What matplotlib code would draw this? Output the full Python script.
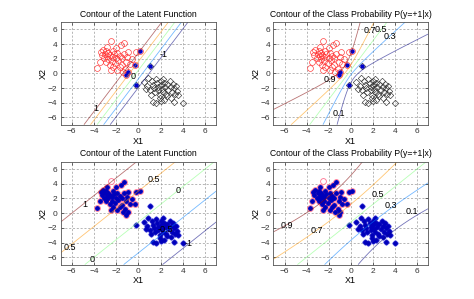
import math

import matplotlib

matplotlib.use("Agg")
import matplotlib.pyplot as plt
import numpy as np

plt.rcParams.update(
    {
        "font.family": ["Liberation Sans Narrow", "Liberation Sans", "DejaVu Sans"],
        "font.size": 6,
        "axes.linewidth": 0.6,
        "axes.edgecolor": "#555555",
    }
)

# ── Data ──────────────────────────────────────────────────────────────────────
pos_x = [-3.7, -3.4, -3.3, -3.2, -3.1, -3.0, -2.9, -2.9, -2.8, -2.7, -2.7, -2.6,
         -2.6, -2.5, -2.5, -2.4, -2.4, -2.3, -2.3, -2.2, -2.1, -2.0, -2.0, -1.9,
         -1.9, -1.8, -1.7, -1.6, -1.5, -1.5, -1.3, -1.3, -1.2, -1.1, -1.0, -0.9,
         -0.8, -0.6, -0.3, -0.2, 0.1, -1.1, -0.95, -1.4, -2.8, -3.5, -1.7]
pos_y = [0.7, 2.9, 2.5, 3.2, 2.1, 2.7, 1.6, 3.0, 2.4, 2.0, 2.8, 1.2,
         2.5, 4.4, 0.5, 2.2, 1.7, 3.0, 0.9, 2.6, 1.4, 2.1, 3.5, 0.4,
         2.8, 1.8, 2.4, 3.9, 1.1, 2.1, 4.2, 2.7, 0.6, 1.6, 2.2, 2.9,
         1.3, 1.9, 1.2, 2.9, 3.0, -0.2, 0.2, 0.2, 3.6, 1.6, 0.9]

neg_x = [1.0, -0.2, 0.5, 0.8, 1.0, 1.2, 1.3, 1.4, 1.5, 1.6, 1.7, 1.8, 1.8, 1.9,
         2.0, 2.0, 2.1, 2.2, 2.2, 2.3, 2.4, 2.5, 2.6, 2.7, 2.8, 2.9, 3.0, 3.1,
         3.2, 3.3, 3.4, 3.5, 1.3, 1.6, 2.0, 2.3, 2.9, 3.2, 4.0, 3.6, 1.1, 0.7,
         1.9, 2.6, 0.9]
neg_y = [1.0, -1.6, -1.2, -1.7, -2.3, -1.0, -1.6, -2.0, -2.6, -0.8, -1.3, -1.9,
         -2.3, -3.0, -1.0, -1.6, -2.1, -0.7, -2.5, -1.3, -1.9, -2.8, -1.5, -2.2,
         -1.0, -1.8, -2.5, -1.4, -2.0, -2.8, -1.7, -2.4, -3.9, -4.0, -3.8, -3.6,
         -3.3, -3.9, -4.0, -3.0, -2.9, -2.1, -3.4, -3.1, -0.6]

# points highlighted in the top row
act_x = [-1.1, -0.95, -0.3, 0.1, 1.0, -0.2]
act_y = [-0.2, 0.2, 1.2, 3.0, 1.0, -1.6]

# latent f = w1*x1 + w2*x2 + b
top_w = (-0.847, 0.424, -0.186)
bot_w = (-0.1429, 0.119, 0.1429)

# probability P = Phi(a*n / sqrt(1 + alpha*u^2 + 2*gamma*u*n + beta*n^2))
# n: distance across the 0.5 line, u: distance along it
top_prob = dict(normal=(-0.894, 0.447, -0.197), along=(0.447, 0.894),
                a=1.80, alpha=0.276, gamma=-0.169, beta=0.2)
bot_prob = dict(normal=(-0.768, 0.640, 0.768), along=(0.640, 0.768),
                a=0.342, alpha=0.011, gamma=0.0, beta=0.0)

latent_levels = [-1, -0.5, 0, 0.5, 1]
prob_levels = [0.1, 0.3, 0.5, 0.7, 0.9]

# contour labels (text, x, y)
tl_labels = [("1", -3.85, -4.8), ("0", -0.5, -0.4), ("-1", 2.25, 2.6)]
tr_labels = [("0.7", 1.75, 5.8), ("0.5", 2.75, 6.0), ("0.3", 3.5, 5.1),
             ("0.9", -1.9, -0.8), ("0.1", -1.1, -5.5)]
bl_labels = [("1", -4.8, 1.2), ("0.5", -6.2, -4.7), ("0.5", 1.35, 4.6),
             ("0", -4.2, -6.3), ("0", 3.6, 3.1), ("-0.5", 2.4, -2.2),
             ("-1", 4.5, -4.1)]
br_labels = [("0.9", -5.8, -1.7), ("0.7", -3.1, -2.4), ("0.5", 2.5, 2.6),
             ("0.3", 3.6, 1.1), ("0.1", 5.5, 0.2)]

ticks = [-6, -4, -2, 0, 2, 4, 6]

# ── Surfaces ──────────────────────────────────────────────────────────────────
gx, gy = np.meshgrid(np.linspace(-7, 7, 281), np.linspace(-7, 7, 281))
phi = np.vectorize(lambda z: 0.5 * (1 + math.erf(z / math.sqrt(2))))


def latent(w):
    return w[0] * gx + w[1] * gy + w[2]


def probability(p):
    n = p["normal"][0] * gx + p["normal"][1] * gy + p["normal"][2]
    u = p["along"][0] * gx + p["along"][1] * gy
    v = p["alpha"] * u**2 + 2 * p["gamma"] * u * n + p["beta"] * n**2
    return phi(p["a"] * n / np.sqrt(1 + v))


# ── Plotting ──────────────────────────────────────────────────────────────────
def style_axes(ax, title):
    ax.set_xlim(-7, 7)
    ax.set_ylim(-7, 7)
    ax.set_xticks(ticks)
    ax.set_yticks(ticks)
    ax.grid(True, linestyle=(0, (3, 2.5)), color="#9a9a9a", linewidth=0.5)
    ax.set_axisbelow(True)
    ax.tick_params(direction="in", length=2, width=0.5, pad=2.5,
                   top=True, right=True, labelsize=6, colors="#333333")
    ax.set_xlabel("X1", fontsize=6.5, labelpad=1)
    ax.set_ylabel("X2", fontsize=6.5, labelpad=0)
    ax.set_title(title, fontsize=6.2, pad=4)


def draw_contours(ax, z, levels, labels):
    ax.contour(gx, gy, z, levels=levels, cmap="jet", linewidths=0.6, alpha=0.55)
    for txt, x, y in labels:
        ax.text(x, y, txt, fontsize=6.5, ha="center", va="center", zorder=5)


fig = plt.figure(figsize=(4.74, 2.99), dpi=100)
ax_tl = fig.add_axes([0.128, 0.583, 0.328, 0.343])
ax_tr = fig.add_axes([0.577, 0.583, 0.326, 0.343])
ax_bl = fig.add_axes([0.128, 0.115, 0.328, 0.344])
ax_br = fig.add_axes([0.577, 0.115, 0.326, 0.344])

# top row: data + highlighted points
for ax in (ax_tl, ax_tr):
    ax.plot(pos_x, pos_y, "o", mfc="none", mec="#ff3030", ms=4.2, mew=0.45)
    ax.plot(neg_x, neg_y, "D", mfc="none", mec="#333333", ms=3.3, mew=0.45)
    ax.plot(act_x, act_y, "o", color="#0000cc", ms=2.2)

# bottom row: every point highlighted
for ax in (ax_bl, ax_br):
    ax.plot(pos_x, pos_y, "o", mfc="none", mec="#ff7090", ms=4.2, mew=0.6)
    ax.plot(neg_x, neg_y, "D", mfc="none", mec="#8080ee", ms=3.3, mew=0.6)
    ax.plot(pos_x[:13] + pos_x[14:], pos_y[:13] + pos_y[14:], "o",
            color="#0000bb", ms=2.5)
    ax.plot(neg_x, neg_y, "o", color="#0000bb", ms=2.5)

draw_contours(ax_tl, latent(top_w), latent_levels, tl_labels)
draw_contours(ax_tr, probability(top_prob), prob_levels, tr_labels)
draw_contours(ax_bl, latent(bot_w), latent_levels, bl_labels)
draw_contours(ax_br, probability(bot_prob), prob_levels, br_labels)

style_axes(ax_tl, "Contour of the Latent Function")
style_axes(ax_tr, "Contour of the Class Probability P(y=+1|x)")
style_axes(ax_bl, "Contour of the Latent Function")
style_axes(ax_br, "Contour of the Class Probability P(y=+1|x)")

fig.savefig("out.png", dpi=100)
